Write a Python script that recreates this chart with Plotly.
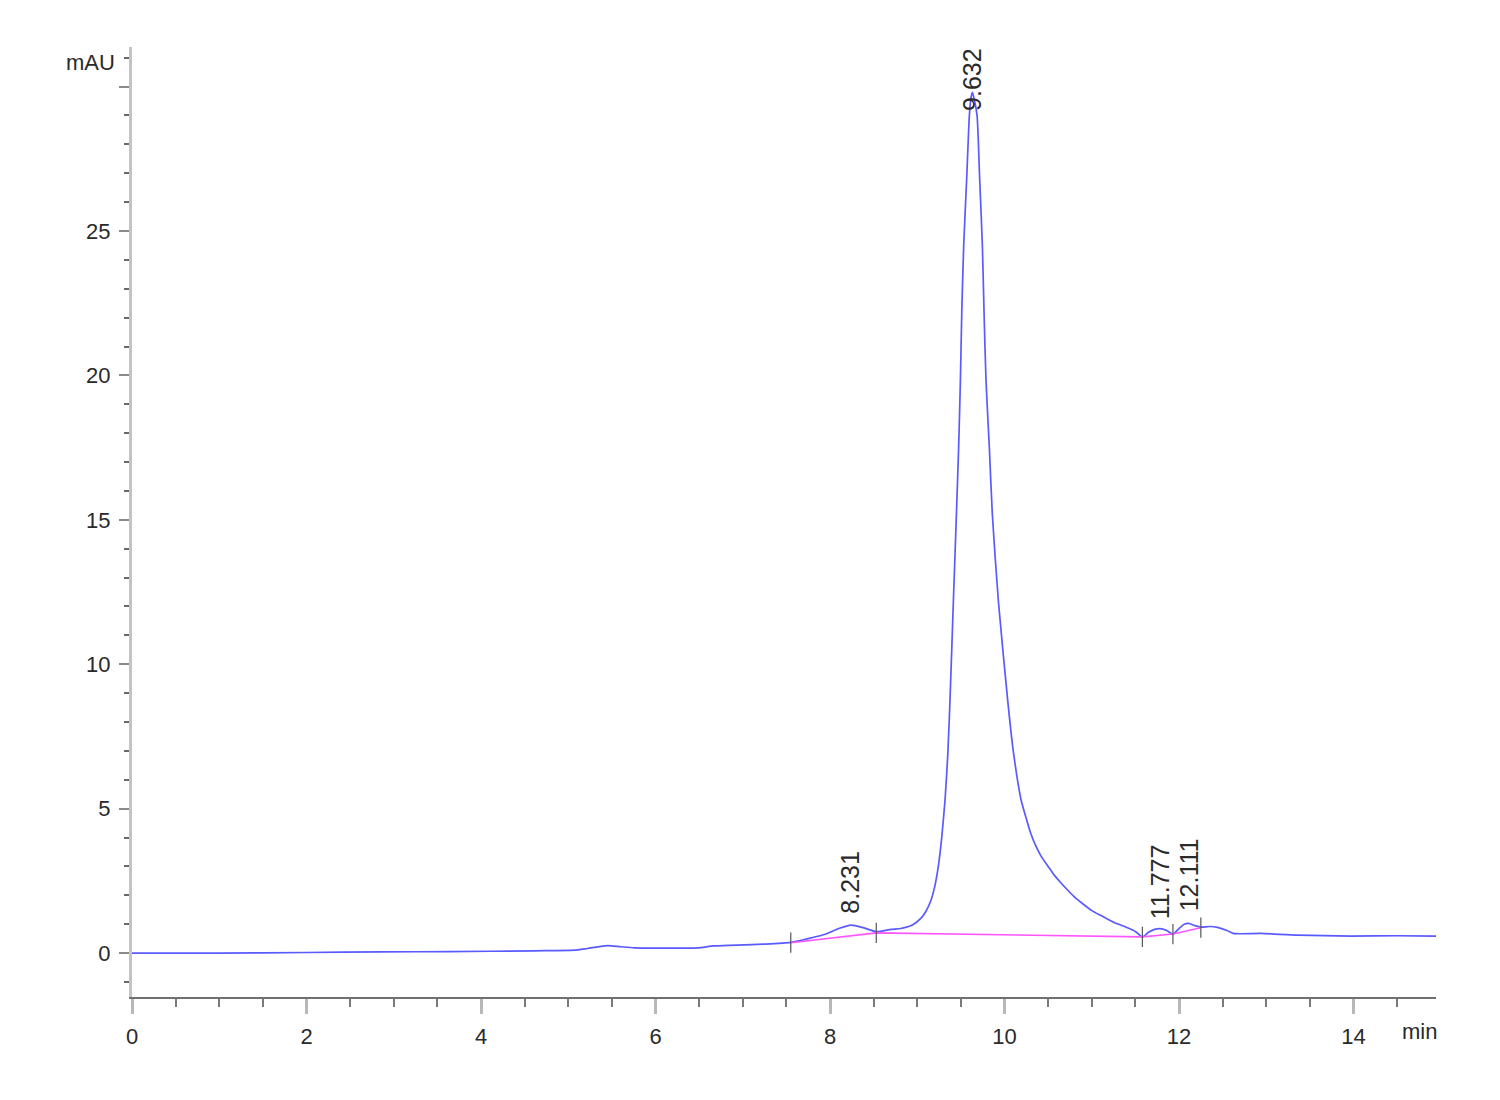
import plotly.graph_objects as go

# Chromatogram signal (time in min, absorbance in mAU)
time_min = [
    0.0, 1.0, 2.0, 2.85, 3.62, 4.61, 5.07, 5.22, 5.45, 5.6, 5.76, 6.48, 6.67,
    7.24, 7.55, 7.75, 7.97, 8.1, 8.24, 8.38, 8.53, 8.7, 8.81, 8.95, 9.04, 9.1,
    9.157, 9.2, 9.241, 9.28, 9.318, 9.35, 9.375, 9.414, 9.444, 9.474, 9.494,
    9.51, 9.532, 9.566, 9.597, 9.615, 9.632, 9.65, 9.685, 9.715, 9.746, 9.765,
    9.788, 9.826, 9.86, 9.929, 10.036, 10.1, 10.19, 10.25, 10.3, 10.36, 10.42,
    10.5, 10.57, 10.65, 10.8, 10.9, 11.0, 11.106, 11.25, 11.41, 11.5, 11.58,
    11.65, 11.72, 11.78, 11.86, 11.93, 12.0, 12.06, 12.11, 12.18, 12.25, 12.35,
    12.44, 12.55, 12.62, 12.94, 13.36, 13.97, 14.5, 14.945,
]
signal_mau = [
    0.0, 0.0, 0.02, 0.045, 0.05, 0.08, 0.1, 0.16, 0.26, 0.22, 0.18, 0.18, 0.25,
    0.31, 0.37, 0.5, 0.68, 0.85, 0.97, 0.88, 0.74, 0.82, 0.85, 0.98, 1.2, 1.45,
    1.83, 2.3, 3.0, 4.0, 5.3, 6.9, 8.76, 12.2, 14.8, 17.5, 19.8,
    22.2, 24.5, 26.8, 29.0, 29.6, 29.8, 29.6, 29.0, 26.8, 24.5, 22.2,
    19.8, 17.5, 15.2, 12.2, 8.76, 7.0, 5.3, 4.65, 4.15, 3.7, 3.35,
    3.0, 2.7, 2.42, 1.95, 1.7, 1.47, 1.3, 1.07, 0.88, 0.75, 0.56,
    0.72, 0.82, 0.85, 0.78, 0.66, 0.85, 1.0, 1.03, 0.95, 0.9, 0.92,
    0.89, 0.78, 0.68, 0.68, 0.62, 0.59, 0.6, 0.59,
]

# Integration baseline (start/end points of the integrated peaks)
baseline_t = [7.55, 8.53, 11.58, 11.93, 12.25]
baseline_y = [0.36, 0.70, 0.56, 0.66, 0.88]

# Peak labels (retention times) and the level the label sits on
peak_times = [8.231, 9.632, 11.777, 12.111]
peak_labels = ["8.231", "9.632", "11.777", "12.111"]
label_level = [1.32, 29.12, 1.14, 1.42]

tick_font = dict(family="Liberation Sans, Arial", size=22, color="#2a2a2a")

fig = go.Figure()

# main signal
fig.add_trace(go.Scatter(
    x=time_min, y=signal_mau, mode="lines",
    line=dict(color="#5a5aff", width=1.7, shape="spline", smoothing=0.6),
    hoverinfo="skip",
))

# baseline under the peaks
fig.add_trace(go.Scatter(
    x=baseline_t, y=baseline_y, mode="lines",
    line=dict(color="#ff55ff", width=1.6), hoverinfo="skip",
))

# small vertical marks where integration starts / stops
mark_x, mark_y = [], []
for t, b in zip(baseline_t, baseline_y):
    mark_x += [t, t, None]
    mark_y += [b - 0.35, b + 0.35, None]
fig.add_trace(go.Scatter(
    x=mark_x, y=mark_y, mode="lines",
    line=dict(color="#555555", width=1.2), hoverinfo="skip",
))

# rotated retention time labels
for t, txt, lvl in zip(peak_times, peak_labels, label_level):
    fig.add_annotation(
        x=t, y=lvl, text=txt, showarrow=False, textangle=-90,
        xanchor="center", yanchor="bottom", borderpad=0,
        font=dict(family="Liberation Sans, Arial", size=25, color="#2a2a2a"),
    )

# axis unit labels
fig.add_annotation(
    xref="paper", x=0, xshift=-15, xanchor="right",
    y=30.85, yanchor="middle", text="mAU", showarrow=False, font=tick_font,
)
fig.add_annotation(
    xref="paper", x=1, xshift=3, xanchor="right",
    yref="paper", y=0, yshift=-20, yanchor="top",
    text="min", showarrow=False, font=tick_font,
)

fig.update_xaxes(
    range=[0, 14.945], showgrid=False, zeroline=False,
    showline=True, linecolor="#707070", linewidth=2,
    tickmode="linear", tick0=0, dtick=2,
    ticks="outside", ticklen=15, tickwidth=3, tickcolor="#b8b8b8",
    ticklabelstandoff=4, tickfont=tick_font,
    minor=dict(dtick=0.5, ticks="outside", ticklen=8, tickwidth=1.5, tickcolor="#7a7a7a"),
)
fig.update_yaxes(
    range=[-1.52, 31.37], showgrid=False, zeroline=False,
    showline=True, linecolor="#c4c4c4", linewidth=3,
    tickvals=[0, 5, 10, 15, 20, 25, 30],
    ticktext=["0", "5", "10", "15", "20", "25", ""],
    ticks="outside", ticklen=10, tickwidth=1.5, tickcolor="#8a8a8a",
    ticklabelstandoff=4, tickfont=tick_font,
    minor=dict(dtick=1, ticks="outside", ticklen=5, tickwidth=1.5, tickcolor="#6a6a6a"),
)

# the page adds ~8px around the figure, so the margins are shifted to match
fig.update_layout(
    width=1500, height=1100,
    margin=dict(l=124, r=72, t=39, b=111),
    plot_bgcolor="white", paper_bgcolor="white",
    showlegend=False,
)

fig.write_html("out.html")
